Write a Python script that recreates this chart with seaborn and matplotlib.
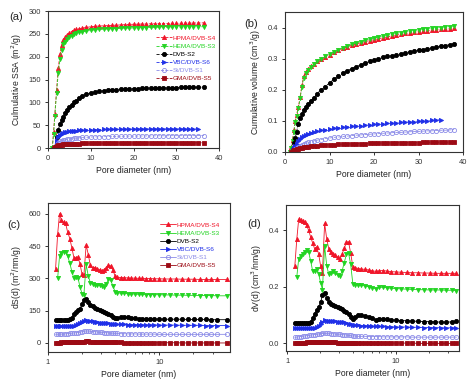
import numpy as np
import pandas as pd
import matplotlib
matplotlib.use("Agg")
import matplotlib.pyplot as plt
import seaborn as sns
from matplotlib.ticker import FixedLocator, NullFormatter

nan = np.nan

labels = ['HPMA/DVB-S4', 'HEMA/DVB-S3', 'DVB-S2', 'VBC/DVB-S6', 'St/DVB-S1', 'GMA/DVB-S5']
colors = ['#f01428', '#22d422', '#000000', '#1f2fe8', '#8c8ce8', '#9c0a14']
markers = ['^', 'v', 'o', '>', 'o', 's']

# (a) cumulative surface area
xa = [1.0, 1.3, 1.6, 2.0, 2.4, 2.8, 3.2, 3.6, 4.0, 4.5, 5.0, 5.5, 6.0, 6.5, 7.2, 8, 9, 10, 11, 12,
      13, 14, 15, 16, 17, 18, 19, 20, 21, 22, 23, 24, 25, 26, 27, 28, 29, 30, 31, 32, 33, 34, 35, 36.5]
hpma_a = [0, 35, 75, 127, 175, 205, 225, 236, 242, 248, 252, 255, 258, 259.5, 261, 262.5, 264, 265.5, 266.5, 267,
          267.5, 268, 268.5, 269, 269.5, 270, 270.5, 271, 271, 271.5, 271.5, 272, 272, 272.5, 272.5, 272.5, 273, 273, 273, 273.5, 273.5, 273.5, 274, 274]
hema_a = [0, 30, 70, 120, 165, 195, 215, 227, 233, 239, 243, 246, 249, 251, 253, 254.5, 256, 257.5, 258.5, 259.5,
          260, 260.5, 261, 261.5, 262, 262.5, 262.5, 263, 263, 263.5, 263.5, 264, 264, 264, 264.5, 264.5, 264.5, 265, 265, 265, 265, 265, 265.5, 265.5]
dvb_a = [nan, nan, 3, 25, 40, 52, 61, 68, 76, 84, 90, 95, 100, 104, 109, 114, 118, 120.5, 122.5, 124,
         125.5, 126.5, 127.5, 128, 128.5, 129, 129.5, 130, 130, 130.5, 130.5, 131, 131, 131.5, 131.5, 132, 132, 132, 132.5, 132.5, 132.5, 133, 133, 133]
vbc_a = [nan, nan, 1, 15, 25, 29, 31.5, 33.5, 35, 36, 36.5, 37, 38, 38.3, 38.7, 39.2, 39.6, 40, 40.3, 40.5,
         40.7, 40.9, 41, 41.1, 41.2, 41.3, 41.4, 41.5, 41.6, 41.7, 41.7, 41.8, 41.8, 41.9, 41.9, 42, 42, 42, 42, 42, 42, 42, 42, nan]
st_a = [nan, nan, 0.5, 7, 12, 14.5, 16, 17, 18, 19, 19.8, 20.5, 21, 21.5, 22.2, 23, 23.5, 24, 24.3, 24.5,
        24.8, 25, 25.2, 25.4, 25.6, 25.8, 26, 26, 26.2, 26.3, 26.4, 26.5, 26.6, 26.7, 26.8, 26.9, 27, 27, 27, 27, 27.1, 27.1, 27.2, 27.2]
gma_a = [nan, 0, 1.5, 4, 5.5, 6.5, 7.3, 8, 8.3, 8.7, 9, 9.2, 9.4, 9.6, 9.8, 10, 10.1, 10.2, 10.3, 10.4,
         10.5, 10.5, 10.6, 10.6, 10.7, 10.7, 10.8, 10.8, 10.9, 10.9, 11, 11, 11, 11.1, 11.1, 11.2, 11.2, 11.2, 11.3, 11.3, 11.3, 11.4, 11.4, 11.5]

# (b) cumulative pore volume
xb = [1.1, 1.4, 1.7, 2.0, 2.3, 2.6, 3.0, 3.4, 3.8, 4.2, 4.7, 5.2, 5.8, 6.5, 7.2, 8, 9, 10, 11, 12,
      13, 14, 15, 16, 17, 18, 19, 20, 21, 22, 23, 24, 25, 26, 27, 28, 29, 30, 31, 32, 33, 34, 35, 36, 37, 38]
hpma_b = [0, 0.015, 0.04, 0.07, 0.1, 0.12, 0.145, 0.177, 0.215, 0.243, 0.258, 0.267, 0.276, 0.284, 0.292, 0.299, 0.306, 0.313, 0.32, 0.327,
          0.333, 0.338, 0.343, 0.347, 0.351, 0.355, 0.358, 0.361, 0.364, 0.367, 0.37, 0.373, 0.376, 0.378, 0.381, 0.383, 0.385, 0.387, 0.389, 0.39,
          0.392, 0.393, 0.394, 0.395, 0.396, 0.397]
hema_b = [0, 0.012, 0.035, 0.065, 0.095, 0.115, 0.14, 0.172, 0.21, 0.238, 0.254, 0.264, 0.274, 0.283, 0.291, 0.299, 0.307, 0.314, 0.322, 0.329,
          0.335, 0.341, 0.346, 0.351, 0.355, 0.359, 0.363, 0.366, 0.369, 0.372, 0.375, 0.378, 0.381, 0.383, 0.386, 0.388, 0.39, 0.392, 0.394, 0.396,
          0.397, 0.399, 0.4, 0.402, 0.403, 0.405]
dvb_b = [nan, nan, 0.01, 0.028, 0.045, 0.065, 0.091, 0.108, 0.122, 0.136, 0.146, 0.155, 0.165, 0.175, 0.186, 0.2, 0.21, 0.222, 0.234, 0.244,
         0.253, 0.261, 0.268, 0.274, 0.28, 0.286, 0.291, 0.296, 0.3, 0.304, 0.307, 0.31, 0.313, 0.316, 0.319, 0.322, 0.324, 0.327, 0.329, 0.332,
         0.334, 0.337, 0.34, 0.342, 0.345, 0.348]
vbc_b = [nan, nan, 0.005, 0.012, 0.02, 0.027, 0.035, 0.042, 0.048, 0.052, 0.056, 0.059, 0.062, 0.065, 0.068, 0.07, 0.072, 0.074, 0.076, 0.078,
         0.08, 0.081, 0.083, 0.084, 0.085, 0.087, 0.088, 0.089, 0.09, 0.091, 0.092, 0.093, 0.094, 0.095, 0.096, 0.097, 0.098, 0.099, 0.1, 0.101,
         0.102, 0.103, 0.104, nan, nan, nan]
st_b = [nan, nan, 0.003, 0.006, 0.009, 0.012, 0.016, 0.02, 0.023, 0.026, 0.029, 0.031, 0.033, 0.036, 0.038, 0.04, 0.043, 0.045, 0.047, 0.048,
        0.05, 0.051, 0.053, 0.054, 0.055, 0.056, 0.057, 0.058, 0.059, 0.06, 0.061, 0.062, 0.063, 0.063, 0.064, 0.065, 0.066, 0.066, 0.067, 0.068,
        0.068, 0.069, 0.07, 0.07, 0.071, 0.072]
gma_b = [nan, 0.0, 0.002, 0.005, 0.007, 0.009, 0.011, 0.013, 0.014, 0.015, 0.016, 0.017, 0.018, 0.019, 0.02, 0.021, 0.022, 0.023, 0.024, 0.025,
         0.025, 0.026, 0.026, 0.027, 0.027, 0.027, 0.028, 0.028, 0.028, 0.029, 0.029, 0.029, 0.029, 0.03, 0.03, 0.03, 0.03, 0.03, 0.031, 0.031,
         0.031, 0.031, 0.031, 0.031, 0.031, 0.031]

# (c) dS(d) distribution
xc = [1.17, 1.22, 1.27, 1.32, 1.38, 1.44, 1.5, 1.57, 1.64, 1.71, 1.78, 1.86, 1.94, 2.02, 2.1, 2.2, 2.3, 2.4, 2.52, 2.64,
      2.77, 2.9, 3.04, 3.18, 3.33, 3.49, 3.65, 3.82, 4.0, 4.2, 4.5, 4.8, 5.2, 5.6, 6.0, 6.5, 7.0, 7.6, 8.2, 9.0,
      10, 11, 12.5, 14, 16, 18, 20.5, 23, 26, 29, 33, 40]
hpma_c = [345, 505, 600, 570, 560, 555, 515, 485, 440, 395, 395, 400, 365, 320, 315, 455, 410, 360, 350, 350,
          345, 340, 335, 340, 350, 360, 358, 340, 310, 305, 304, 303, 302, 301, 301, 300, 300, 299, 299, 298,
          298, 297, 297, 297, 296, 296, 296, 295, 295, 295, 295, 295]
hema_c = [nan, 300, 405, 420, 422, 422, 405, 370, 330, 300, 305, 300, 260, 228, 225, 365, 310, 280, 272, 270,
          270, 268, 265, 262, 275, 295, 292, 265, 238, 233, 231, 230, 229, 228, 227, 226, 226, 225, 225, 224,
          224, 223, 223, 222, 222, 221, 221, 220, 220, 220, 219, 219]
dvb_c = [108, 108, 108, 108, 108, 108, 108, 110, 118, 135, 145, 152, 160, 180, 200, 205, 192, 178, 170, 163,
         158, 153, 148, 143, 138, 133, 128, 122, 116, 118, 121, 120, 119, 117, 115, 113, 113, 112, 112, 111,
         111, 110, 110, 110, 110, 109, 109, 109, 109, 108, 108, 108]
vbc_c = [80, 80, 80, 80, 80, 80, 80, 80, 80, 80, 82, 87, 93, 99, 104, 106, 104, 102, 100, 98,
         97, 95, 94, 93, 92, 91, 90, 89, 88, 87, 86, 86, 85, 85, 85, 85, 84, 84, 84, 84,
         83, 83, 83, 83, 82, 82, 82, 82, 81, 81, 81, 81]
st_c = [40, 40, 41, 41, 42, 42, 43, 44, 45, 46, 47, 48, 50, 52, 54, 55, 55, 54, 53, 52,
        51, 50, 49, 48, 47, 47, 46, 45, 44, 44, 43, 43, 42, 42, 42, 41, 41, 41, 41, 41,
        40, 40, 40, 40, 40, 40, 40, 40, 40, 40, 40, 40]
gma_c = [0, 1, 2, 3, 4, 5, 6, 6, 6, 5, 5, 5, 5, 6, 6, 7, 7, 6, 6, 5,
         5, 5, 4, 4, 4, 4, 4, 3, 3, 3, 3, 2, 2, 2, 2, 2, 2, 1, 1, 1,
         1, 1, 1, 1, 0, 0, 0, 0, 0, 0, 0, 0]

# (d) dV(d) distribution
xd = [1.17, 1.22, 1.27, 1.32, 1.38, 1.44, 1.5, 1.57, 1.64, 1.71, 1.78, 1.86, 1.94, 2.02, 2.1, 2.2, 2.3, 2.4, 2.52, 2.64,
      2.77, 2.9, 3.04, 3.18, 3.33, 3.49, 3.65, 3.82, 4.0, 4.2, 4.5, 4.8, 5.2, 5.6, 6.0, 6.5, 7.0, 7.6, 8.2, 9.0,
      10, 11, 12.5, 14, 16, 18, 20.5, 23, 26, 29, 32.5, 36]
hpma_d = [0.275, 0.37, 0.44, 0.437, 0.432, 0.43, 0.418, 0.4, 0.375, 0.355, 0.335, 0.342, 0.315, 0.275, 0.25, 0.425, 0.37, 0.335, 0.322, 0.318,
          0.312, 0.305, 0.3, 0.315, 0.336, 0.358, 0.36, 0.32, 0.272, 0.268, 0.265, 0.263, 0.262, 0.26, 0.257, 0.255, 0.257, 0.258, 0.256, 0.254,
          0.253, 0.252, 0.251, 0.25, 0.25, 0.249, 0.249, 0.248, 0.248, 0.248, 0.248, 0.248]
hema_d = [nan, 0.236, 0.3, 0.31, 0.318, 0.325, 0.33, 0.322, 0.29, 0.255, 0.258, 0.265, 0.245, 0.215, 0.19, 0.345, 0.275, 0.245, 0.25, 0.255,
          0.248, 0.243, 0.237, 0.255, 0.285, 0.315, 0.32, 0.28, 0.212, 0.208, 0.207, 0.205, 0.204, 0.2, 0.197, 0.194, 0.198, 0.199, 0.197, 0.195,
          0.194, 0.193, 0.192, 0.191, 0.19, 0.19, 0.189, 0.189, 0.189, 0.188, 0.188, 0.187]
dvb_d = [0.073, 0.073, 0.073, 0.073, 0.073, 0.073, 0.073, 0.073, 0.075, 0.09, 0.105, 0.118, 0.13, 0.145, 0.17, 0.177, 0.16, 0.145, 0.14, 0.136,
         0.132, 0.128, 0.124, 0.12, 0.115, 0.11, 0.104, 0.095, 0.088, 0.094, 0.1, 0.1, 0.098, 0.095, 0.09, 0.084, 0.088, 0.088, 0.085, 0.083,
         0.082, 0.081, 0.08, 0.079, 0.078, 0.077, 0.077, 0.076, 0.075, 0.075, 0.076, 0.078]
vbc_d = [0.055, 0.055, 0.055, 0.055, 0.055, 0.055, 0.055, 0.055, 0.055, 0.055, 0.055, 0.058, 0.063, 0.07, 0.077, 0.082, 0.081, 0.08, 0.079, 0.078,
         0.078, 0.077, 0.076, 0.075, 0.074, 0.072, 0.07, 0.068, 0.066, 0.065, 0.064, 0.063, 0.063, 0.062, 0.061, 0.06, 0.06, 0.06, 0.059, 0.059,
         0.058, 0.058, 0.058, 0.057, 0.057, 0.056, 0.056, 0.056, 0.055, 0.055, 0.055, 0.055]
st_d = [0.021, 0.022, 0.023, 0.024, 0.025, 0.026, 0.027, 0.028, 0.029, 0.03, 0.031, 0.032, 0.033, 0.034, 0.035, 0.036, 0.035, 0.035, 0.034, 0.034,
        0.033, 0.033, 0.032, 0.031, 0.03, 0.03, 0.029, 0.028, 0.026, 0.026, 0.025, 0.025, 0.025, 0.024, 0.024, 0.024, 0.024, 0.023, 0.023, 0.023,
        0.023, 0.023, 0.023, 0.022, 0.022, 0.022, 0.022, 0.022, 0.022, 0.022, 0.022, 0.022]
gma_d = [0.0, 0.001, 0.002, 0.002, 0.003, 0.003, 0.004, 0.004, 0.004, 0.004, 0.004, 0.004, 0.004, 0.004, 0.005, 0.005, 0.005, 0.004, 0.004, 0.004,
         0.004, 0.003, 0.003, 0.003, 0.003, 0.003, 0.003, 0.002, 0.001, 0.002, 0.002, 0.002, 0.002, 0.002, 0.001, 0.001, 0.002, 0.001, 0.001, 0.001,
         0.001, 0.001, 0.001, 0.001, 0.0, 0.0, 0.0, 0.0, 0.0, 0.0, 0.0, 0.0]

sns.set_style('ticks')
plt.rcParams['font.family'] = ['Liberation Sans', 'DejaVu Sans']
plt.rcParams['axes.linewidth'] = 0.8
plt.rcParams['axes.edgecolor'] = '#333333'
plt.rcParams['xtick.color'] = '#333333'
plt.rcParams['ytick.color'] = '#333333'
plt.rcParams['axes.labelcolor'] = '#222222'

W, H = 474, 381
fig = plt.figure(figsize=(W / 100, H / 100), dpi=100)


def box(l, t, r, b):
    return [l / W, 1 - b / H, (r - l) / W, (b - t) / H]


ax_a = fig.add_axes(box(48, 11, 219, 148))
ax_b = fig.add_axes(box(285, 12, 463, 152))
ax_c = fig.add_axes(box(48, 203, 230, 352))
ax_d = fig.add_axes(box(286, 205, 459, 351))


def draw(ax, x, series, ls):
    for y, lab, col, mk in zip(series, labels, colors, markers):
        df = pd.DataFrame({'x': x, 'y': y})
        face = 'none' if lab.startswith('St') else col
        sns.lineplot(data=df, x='x', y='y', ax=ax, color=col, marker=mk, markersize=3,
                     markerfacecolor=face, markeredgecolor=col, markeredgewidth=0.6,
                     linewidth=0.6, linestyle=ls, label=lab, legend=False)


draw(ax_a, xa, [hpma_a, hema_a, dvb_a, vbc_a, st_a, gma_a], '--')
draw(ax_b, xb, [hpma_b, hema_b, dvb_b, vbc_b, st_b, gma_b], '--')
draw(ax_c, xc, [hpma_c, hema_c, dvb_c, vbc_c, st_c, gma_c], '-')
draw(ax_d, xd, [hpma_d, hema_d, dvb_d, vbc_d, st_d, gma_d], '-')

tick_fs = 5.4
lab_fs = 6.2

ax_a.set_xlim(0, 40)
ax_a.set_ylim(0, 300)
ax_a.set_xticks([0, 10, 20, 30, 40])
ax_a.set_yticks([0, 50, 100, 150, 200, 250, 300])
ax_a.set_ylabel('Culmulative SSA (m$^2$/g)', fontsize=lab_fs, labelpad=3)

ax_b.set_xlim(0, 40)
ax_b.set_ylim(0, 0.45)
ax_b.set_xticks([0, 10, 20, 30, 40])
ax_b.set_yticks([0.0, 0.1, 0.2, 0.3, 0.4])
ax_b.set_yticklabels(['0.0', '0.1', '0.2', '0.3', '0.4'])
ax_b.set_ylabel('Cumulative volume (cm$^3$/g)', fontsize=lab_fs, labelpad=3)

ax_c.set_xscale('log')
ax_c.set_xlim(1.0, 43)
ax_c.set_ylim(-42, 650)
ax_c.set_yticks([0, 150, 300, 450, 600])
ax_c.set_ylabel('dS(d) (m$^2$/nm/g)', fontsize=lab_fs, labelpad=3)

ax_d.set_xscale('log')
ax_d.set_xlim(0.97, 38)
ax_d.set_ylim(-0.027, 0.49)
ax_d.set_yticks([0.0, 0.2, 0.4])
ax_d.set_yticklabels(['0.0', '0.2', '0.4'])
ax_d.set_ylabel('dV(d) (cm$^3$/nm/g)', fontsize=lab_fs, labelpad=3)

for ax in (ax_c, ax_d):
    ax.xaxis.set_major_locator(FixedLocator([1, 10]))
    ax.set_xticklabels(['1', '10'])
    ax.xaxis.set_minor_locator(FixedLocator([2, 3, 4, 5, 6, 7, 8, 9, 20, 30]))
    ax.xaxis.set_minor_formatter(NullFormatter())

for ax in (ax_a, ax_b, ax_c, ax_d):
    ax.set_xlabel('Pore diameter (nm)', fontsize=lab_fs, labelpad=3)
    ax.tick_params(labelsize=tick_fs, length=2.5, width=0.7, pad=2.5)
    ax.tick_params(which='minor', length=1.5, width=0.6)
    for sp in ax.spines.values():
        sp.set_visible(True)


def add_legend(ax, anchor):
    leg = ax.legend(loc='upper left', bbox_to_anchor=anchor, frameon=False, fontsize=4.6,
                    handlelength=2.4, handletextpad=0.2, labelspacing=0.42, borderpad=0)
    for txt, line in zip(leg.get_texts(), leg.get_lines()):
        txt.set_color(line.get_color())
    return leg


add_legend(ax_a, ((153 - 48) / 171, (148 - 32) / 137))
add_legend(ax_c, ((157 - 48) / 182, (352 - 219) / 149))

fig.text(9 / W, 1 - 17 / H, '(a)', fontsize=8, va='center')
fig.text(244 / W, 1 - 24 / H, '(b)', fontsize=8, va='center')
fig.text(7 / W, 1 - 225 / H, '(c)', fontsize=8, va='center')
fig.text(247 / W, 1 - 224 / H, '(d)', fontsize=8, va='center')

fig.savefig('out.png', dpi=100)
